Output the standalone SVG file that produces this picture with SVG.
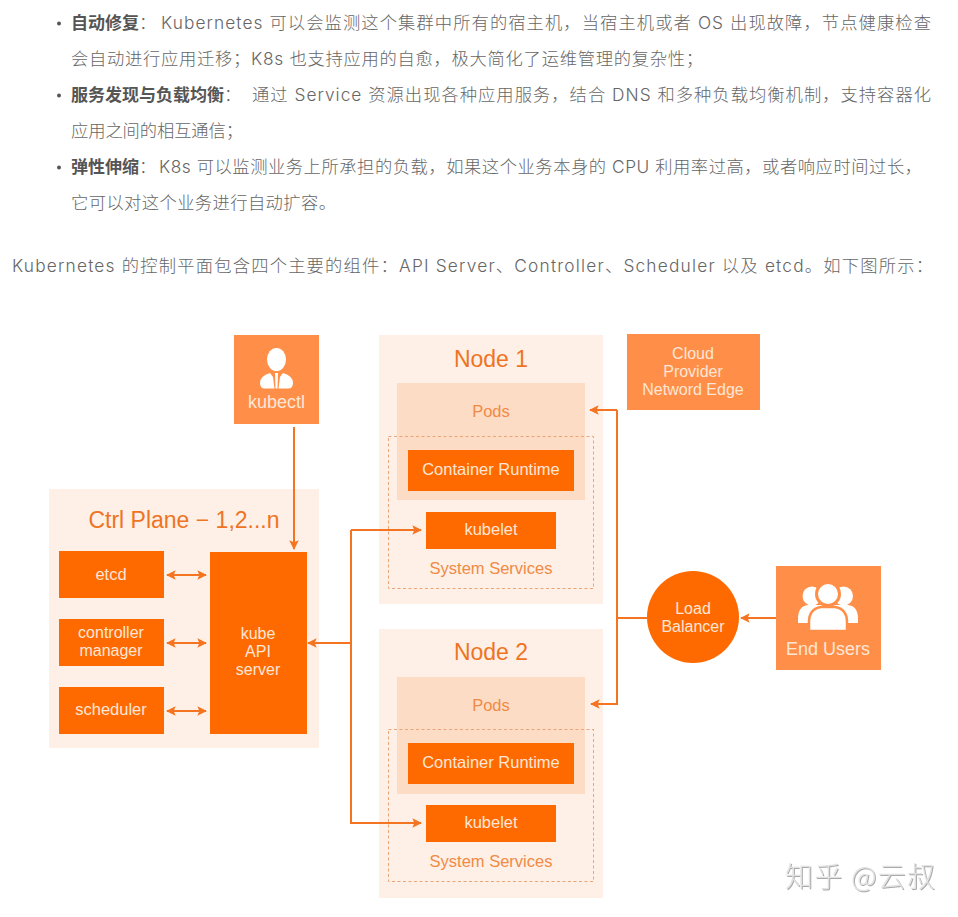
<svg xmlns="http://www.w3.org/2000/svg" width="958" height="917" viewBox="0 0 958 917">
<defs>
<marker id="ah" viewBox="0 0 10 10" refX="9" refY="5" markerWidth="4.8" markerHeight="4.8" orient="auto-start-reverse"><path d="M0 0L10 5L0 10L2 5Z" fill="#F47421"/></marker>
</defs>
<style>
.b{font-family:Inter,"Noto Sans CJK SC",sans-serif;font-size:17.300px;fill:#666;font-weight:300}
.bb{font-family:"Noto Sans CJK SC","Noto Sans",sans-serif;font-size:17px;fill:#555;font-weight:700}
text.t{font-family:"Liberation Sans",Arial,sans-serif;text-anchor:middle}
.w{font-size:16.500px;fill:#FDE6D6}
.m{font-size:16px;fill:#FDE6D6}
.o{font-size:16.500px;fill:#F08A45}
.l{font-size:18px;fill:#FDE6D6}
text.h{font-size:23px;fill:#EE7424}
.dk{fill:#FF6A00}
.lt{fill:#FF8F48}
.bg{fill:#FEF0E6}
.pd{fill:#FDDCC6}
.ds{fill:none;stroke:#E8A678;stroke-width:1;stroke-dasharray:3 2.500}
.c{fill:none;stroke:#F47421;stroke-width:2}
.a{marker-end:url(#ah)}
.aa{marker-end:url(#ah);marker-start:url(#ah)}
</style>
<rect width="958" height="917" fill="#fff"/>
<g id="page-text">
<circle cx="59" cy="23.500" r="2" fill="#555"/>
<text class="bb" x="71" y="29">自动修复</text><text class="b" x="139" y="29">：</text>
<text class="b" x="161" y="29" textLength="770">Kubernetes 可以会监测这个集群中所有的宿主机，当宿主机或者 OS 出现故障，节点健康检查</text>
<text class="b" x="71" y="65" textLength="632">会自动进行应用迁移；K8s 也支持应用的自愈，极大简化了运维管理的复杂性；</text>
<circle cx="59" cy="95.500" r="2" fill="#555"/>
<text class="bb" x="71" y="101">服务发现与负载均衡</text><text class="b" x="224" y="101">：</text>
<text class="b" x="252" y="101" textLength="679">通过 Service 资源出现各种应用服务，结合 DNS 和多种负载均衡机制，支持容器化</text>
<text class="b" x="71" y="137" textLength="172">应用之间的相互通信；</text>
<circle cx="59" cy="167.500" r="2" fill="#555"/>
<text class="bb" x="71" y="173">弹性伸缩</text><text class="b" x="139" y="173">：</text>
<text class="b" x="159" y="173" textLength="763">K8s 可以监测业务上所承担的负载，如果这个业务本身的 CPU 利用率过高，或者响应时间过长，</text>
<text class="b" x="71" y="209" textLength="265">它可以对这个业务进行自动扩容。</text>
<text class="b" x="12" y="272" textLength="921">Kubernetes 的控制平面包含四个主要的组件：API Server、Controller、Scheduler 以及 etcd。如下图所示：</text>
</g>
<g id="ctrl-plane"><rect class="bg" x="49" y="489" width="270" height="259"/><text class="t h" x="184" y="528">Ctrl Plane − 1,2...n</text></g>
<g id="etcd"><rect class="dk" x="59" y="551" width="105" height="47"/><text class="t w" x="111" y="580">etcd</text></g>
<g id="controller-manager"><rect class="dk" x="59" y="619" width="105" height="47"/><text class="t m" x="111" y="638">controller</text><text class="t m" x="111" y="656">manager</text></g>
<g id="scheduler"><rect class="dk" x="59" y="687" width="105" height="47"/><text class="t w" x="111" y="715">scheduler</text></g>
<g id="kube-api-server"><rect class="dk" x="210" y="552" width="97" height="182"/><text class="t m" x="258" y="639">kube</text><text class="t m" x="258" y="657">API</text><text class="t m" x="258" y="675">server</text></g>
<g id="kubectl"><rect class="lt" x="234" y="335" width="85" height="89"/>
<ellipse cx="276.500" cy="359.500" rx="9.500" ry="11.500" fill="#fff"/>
<path d="M260 383Q260 376 270 373L273 377L274.500 388.500H265Q260 388.500 260 383ZM293 383Q293 376 283 373L280 377L278.500 388.500H288Q293 388.500 293 383ZM275 373H278L277.500 388.500H275.500Z" fill="#fff"/>
<text class="t l" x="276.500" y="408">kubectl</text></g>
<g id="node-1"><rect class="bg" x="379" y="335" width="224" height="269"/><text class="t h" x="491" y="367">Node 1</text>
<rect class="pd" x="397" y="383" width="188" height="117"/><text class="t o" x="491" y="417">Pods</text>
<rect class="ds" x="388.500" y="436.500" width="205" height="152"/>
<rect class="dk" x="408" y="450" width="166" height="41"/><text class="t w" x="491" y="475">Container Runtime</text>
<rect class="dk" x="426" y="512" width="130" height="37"/><text class="t w" x="491" y="535">kubelet</text>
<text class="t o" x="491" y="574">System Services</text></g>
<g id="node-2"><rect class="bg" x="379" y="629" width="224" height="269"/><text class="t h" x="491" y="660">Node 2</text>
<rect class="pd" x="397" y="677" width="188" height="117"/><text class="t o" x="491" y="711">Pods</text>
<rect class="ds" x="388.500" y="729.500" width="205" height="152"/>
<rect class="dk" x="408" y="743" width="166" height="41"/><text class="t w" x="491" y="768">Container Runtime</text>
<rect class="dk" x="426" y="805" width="130" height="37"/><text class="t w" x="491" y="828">kubelet</text>
<text class="t o" x="491" y="867">System Services</text></g>
<g id="cloud-provider"><rect class="lt" x="627" y="334" width="133" height="76"/><text class="t m" x="693" y="359">Cloud</text><text class="t m" x="693" y="377">Provider</text><text class="t m" x="693" y="395">Netword Edge</text></g>
<g id="load-balancer"><circle class="dk" cx="693" cy="617" r="46"/><text class="t m" x="693" y="614">Load</text><text class="t m" x="693" y="632">Balancer</text></g>
<g id="end-users"><rect class="lt" x="776" y="566" width="105" height="104"/>
<g fill="#fff"><circle cx="812" cy="596" r="9.500"/><circle cx="843.500" cy="596" r="9.500"/>
<path d="M798 623V619Q798 606 808 605H848Q858 606 858 619V623Z"/>
<circle cx="828" cy="594" r="11.500" stroke="#FF8F48" stroke-width="3"/>
<path d="M809 631V622Q809 609 821 607H835Q847 609 847 622V631Z" stroke="#FF8F48" stroke-width="2.500"/></g>
<text class="t l" x="828" y="655">End Users</text></g>
<g id="connectors">
<path class="c a" d="M294 427V549"/>
<path class="c aa" d="M167 575H206"/>
<path class="c aa" d="M167 643H206"/>
<path class="c aa" d="M167 711H206"/>
<path class="c a" d="M351 643H308"/>
<path class="c a" d="M351 530V823H421"/>
<path class="c a" d="M351 530H421"/>
<path class="c a" d="M617 410H590"/>
<path class="c a" d="M617 410V704H591"/>
<path class="c" d="M617 618H648"/>
<path class="c a" d="M776 618H741"/>
</g>
<g id="watermark"><text x="785" y="887" textLength="150" style="font-family:'Noto Sans CJK SC',sans-serif;font-size:28px;fill:#e2e2e2;font-weight:300;filter:drop-shadow(1px 1px 0 #aaa)">知乎 @云叔</text></g>
</svg>
